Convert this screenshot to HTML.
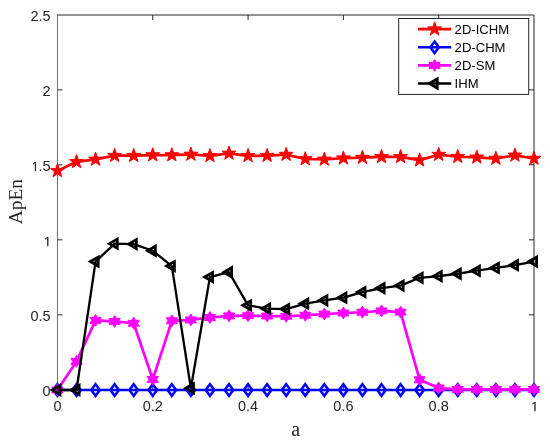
<!DOCTYPE html>
<html><head><meta charset="utf-8"><style>
html,body{margin:0;padding:0;background:#fff;}
svg{display:block;}
.tk{font-family:"Liberation Sans",Arial,sans-serif;font-size:14.5px;fill:#262626;}
.lg{font-family:"Liberation Sans",Arial,sans-serif;font-size:13.1px;fill:#000;}
.one{font-family:"NanumGothic","Liberation Sans",sans-serif;font-size:13.3px;stroke:#262626;stroke-width:0.35px;}
.al{font-family:"Liberation Serif","Times New Roman",serif;font-size:20px;fill:#262626;}
</style></head><body>
<svg width="550" height="443" viewBox="0 0 550 443">
<rect width="550" height="443" fill="#fff"/>
<g stroke="#262626" stroke-width="1" fill="none">
<path d="M56.95,15.0 L534.0,15.0 L534.0,390.5 M534.0,390.0 L57.45,390.0"/>
<path d="M57.45,390.5 L57.45,14.5" stroke="#6c6c6c"/>
<path d="M152.76,15.0 v5 M152.76,390.0 v-5"/>
<path d="M248.07,15.0 v5 M248.07,390.0 v-5"/>
<path d="M343.38,15.0 v5 M343.38,390.0 v-5"/>
<path d="M438.69,15.0 v5 M438.69,390.0 v-5"/>
<path d="M57.45,314.85 h5 M534.0,314.85 h-5"/>
<path d="M57.45,239.85 h5 M534.0,239.85 h-5"/>
<path d="M57.45,164.85 h5 M534.0,164.85 h-5"/>
<path d="M57.45,89.85 h5 M534.0,89.85 h-5"/>
</g>
<text class="tk" x="53.42" y="411.2">0</text>
<text class="tk" x="142.68" y="411.2">0.2</text>
<text class="tk" x="237.99" y="411.2">0.4</text>
<text class="tk" x="333.30" y="411.2">0.6</text>
<text class="tk" x="428.61" y="411.2">0.8</text>
<text class="tk" x="529.97" y="411.2"><tspan class="one" dx="0.60">1</tspan></text>
<text class="tk" x="42.54" y="396.10">0</text>
<text class="tk" x="30.44" y="321.10">0.5</text>
<text class="tk" x="42.54" y="246.10"><tspan class="one" dx="0.60">1</tspan></text>
<text class="tk" x="30.44" y="171.10"><tspan class="one" dx="0.60">1</tspan><tspan dx="-0.60">.</tspan>5</text>
<text class="tk" x="42.54" y="96.10">2</text>
<text class="tk" x="30.44" y="21.10">2.5</text>
<text class="al" x="295.73" y="436.0" text-anchor="middle">a</text>
<text class="al" style="font-size:19.4px" transform="translate(21.6,201.6) rotate(-90)" text-anchor="middle">ApEn</text>
<polyline points="57.45,170.87 76.51,161.84 95.57,159.44 114.64,155.68 133.70,155.68 152.76,155.08 171.82,155.08 190.88,154.47 209.95,155.83 229.01,153.42 248.07,155.83 267.13,155.68 286.19,154.62 305.26,158.99 324.32,159.44 343.38,158.23 362.44,157.63 381.50,156.88 400.57,156.88 419.63,160.19 438.69,154.62 457.75,156.73 476.81,157.33 495.88,158.53 514.94,155.38 534.00,158.53" fill="none" stroke="#f00" stroke-width="2.7" stroke-linejoin="round"/>
<path d="M0.00,-7.30 L1.72,-2.36 L6.94,-2.26 L2.78,0.90 L4.29,5.91 L0.00,2.92 L-4.29,5.91 L-2.78,0.90 L-6.94,-2.26 L-1.72,-2.36Z" transform="translate(57.45,170.87)" fill="#f00" stroke="#f00" stroke-width="1"/><path d="M0.00,-7.30 L1.72,-2.36 L6.94,-2.26 L2.78,0.90 L4.29,5.91 L0.00,2.92 L-4.29,5.91 L-2.78,0.90 L-6.94,-2.26 L-1.72,-2.36Z" transform="translate(76.51,161.84)" fill="#f00" stroke="#f00" stroke-width="1"/><path d="M0.00,-7.30 L1.72,-2.36 L6.94,-2.26 L2.78,0.90 L4.29,5.91 L0.00,2.92 L-4.29,5.91 L-2.78,0.90 L-6.94,-2.26 L-1.72,-2.36Z" transform="translate(95.57,159.44)" fill="#f00" stroke="#f00" stroke-width="1"/><path d="M0.00,-7.30 L1.72,-2.36 L6.94,-2.26 L2.78,0.90 L4.29,5.91 L0.00,2.92 L-4.29,5.91 L-2.78,0.90 L-6.94,-2.26 L-1.72,-2.36Z" transform="translate(114.64,155.68)" fill="#f00" stroke="#f00" stroke-width="1"/><path d="M0.00,-7.30 L1.72,-2.36 L6.94,-2.26 L2.78,0.90 L4.29,5.91 L0.00,2.92 L-4.29,5.91 L-2.78,0.90 L-6.94,-2.26 L-1.72,-2.36Z" transform="translate(133.70,155.68)" fill="#f00" stroke="#f00" stroke-width="1"/><path d="M0.00,-7.30 L1.72,-2.36 L6.94,-2.26 L2.78,0.90 L4.29,5.91 L0.00,2.92 L-4.29,5.91 L-2.78,0.90 L-6.94,-2.26 L-1.72,-2.36Z" transform="translate(152.76,155.08)" fill="#f00" stroke="#f00" stroke-width="1"/><path d="M0.00,-7.30 L1.72,-2.36 L6.94,-2.26 L2.78,0.90 L4.29,5.91 L0.00,2.92 L-4.29,5.91 L-2.78,0.90 L-6.94,-2.26 L-1.72,-2.36Z" transform="translate(171.82,155.08)" fill="#f00" stroke="#f00" stroke-width="1"/><path d="M0.00,-7.30 L1.72,-2.36 L6.94,-2.26 L2.78,0.90 L4.29,5.91 L0.00,2.92 L-4.29,5.91 L-2.78,0.90 L-6.94,-2.26 L-1.72,-2.36Z" transform="translate(190.88,154.47)" fill="#f00" stroke="#f00" stroke-width="1"/><path d="M0.00,-7.30 L1.72,-2.36 L6.94,-2.26 L2.78,0.90 L4.29,5.91 L0.00,2.92 L-4.29,5.91 L-2.78,0.90 L-6.94,-2.26 L-1.72,-2.36Z" transform="translate(209.95,155.83)" fill="#f00" stroke="#f00" stroke-width="1"/><path d="M0.00,-7.30 L1.72,-2.36 L6.94,-2.26 L2.78,0.90 L4.29,5.91 L0.00,2.92 L-4.29,5.91 L-2.78,0.90 L-6.94,-2.26 L-1.72,-2.36Z" transform="translate(229.01,153.42)" fill="#f00" stroke="#f00" stroke-width="1"/><path d="M0.00,-7.30 L1.72,-2.36 L6.94,-2.26 L2.78,0.90 L4.29,5.91 L0.00,2.92 L-4.29,5.91 L-2.78,0.90 L-6.94,-2.26 L-1.72,-2.36Z" transform="translate(248.07,155.83)" fill="#f00" stroke="#f00" stroke-width="1"/><path d="M0.00,-7.30 L1.72,-2.36 L6.94,-2.26 L2.78,0.90 L4.29,5.91 L0.00,2.92 L-4.29,5.91 L-2.78,0.90 L-6.94,-2.26 L-1.72,-2.36Z" transform="translate(267.13,155.68)" fill="#f00" stroke="#f00" stroke-width="1"/><path d="M0.00,-7.30 L1.72,-2.36 L6.94,-2.26 L2.78,0.90 L4.29,5.91 L0.00,2.92 L-4.29,5.91 L-2.78,0.90 L-6.94,-2.26 L-1.72,-2.36Z" transform="translate(286.19,154.62)" fill="#f00" stroke="#f00" stroke-width="1"/><path d="M0.00,-7.30 L1.72,-2.36 L6.94,-2.26 L2.78,0.90 L4.29,5.91 L0.00,2.92 L-4.29,5.91 L-2.78,0.90 L-6.94,-2.26 L-1.72,-2.36Z" transform="translate(305.26,158.99)" fill="#f00" stroke="#f00" stroke-width="1"/><path d="M0.00,-7.30 L1.72,-2.36 L6.94,-2.26 L2.78,0.90 L4.29,5.91 L0.00,2.92 L-4.29,5.91 L-2.78,0.90 L-6.94,-2.26 L-1.72,-2.36Z" transform="translate(324.32,159.44)" fill="#f00" stroke="#f00" stroke-width="1"/><path d="M0.00,-7.30 L1.72,-2.36 L6.94,-2.26 L2.78,0.90 L4.29,5.91 L0.00,2.92 L-4.29,5.91 L-2.78,0.90 L-6.94,-2.26 L-1.72,-2.36Z" transform="translate(343.38,158.23)" fill="#f00" stroke="#f00" stroke-width="1"/><path d="M0.00,-7.30 L1.72,-2.36 L6.94,-2.26 L2.78,0.90 L4.29,5.91 L0.00,2.92 L-4.29,5.91 L-2.78,0.90 L-6.94,-2.26 L-1.72,-2.36Z" transform="translate(362.44,157.63)" fill="#f00" stroke="#f00" stroke-width="1"/><path d="M0.00,-7.30 L1.72,-2.36 L6.94,-2.26 L2.78,0.90 L4.29,5.91 L0.00,2.92 L-4.29,5.91 L-2.78,0.90 L-6.94,-2.26 L-1.72,-2.36Z" transform="translate(381.50,156.88)" fill="#f00" stroke="#f00" stroke-width="1"/><path d="M0.00,-7.30 L1.72,-2.36 L6.94,-2.26 L2.78,0.90 L4.29,5.91 L0.00,2.92 L-4.29,5.91 L-2.78,0.90 L-6.94,-2.26 L-1.72,-2.36Z" transform="translate(400.57,156.88)" fill="#f00" stroke="#f00" stroke-width="1"/><path d="M0.00,-7.30 L1.72,-2.36 L6.94,-2.26 L2.78,0.90 L4.29,5.91 L0.00,2.92 L-4.29,5.91 L-2.78,0.90 L-6.94,-2.26 L-1.72,-2.36Z" transform="translate(419.63,160.19)" fill="#f00" stroke="#f00" stroke-width="1"/><path d="M0.00,-7.30 L1.72,-2.36 L6.94,-2.26 L2.78,0.90 L4.29,5.91 L0.00,2.92 L-4.29,5.91 L-2.78,0.90 L-6.94,-2.26 L-1.72,-2.36Z" transform="translate(438.69,154.62)" fill="#f00" stroke="#f00" stroke-width="1"/><path d="M0.00,-7.30 L1.72,-2.36 L6.94,-2.26 L2.78,0.90 L4.29,5.91 L0.00,2.92 L-4.29,5.91 L-2.78,0.90 L-6.94,-2.26 L-1.72,-2.36Z" transform="translate(457.75,156.73)" fill="#f00" stroke="#f00" stroke-width="1"/><path d="M0.00,-7.30 L1.72,-2.36 L6.94,-2.26 L2.78,0.90 L4.29,5.91 L0.00,2.92 L-4.29,5.91 L-2.78,0.90 L-6.94,-2.26 L-1.72,-2.36Z" transform="translate(476.81,157.33)" fill="#f00" stroke="#f00" stroke-width="1"/><path d="M0.00,-7.30 L1.72,-2.36 L6.94,-2.26 L2.78,0.90 L4.29,5.91 L0.00,2.92 L-4.29,5.91 L-2.78,0.90 L-6.94,-2.26 L-1.72,-2.36Z" transform="translate(495.88,158.53)" fill="#f00" stroke="#f00" stroke-width="1"/><path d="M0.00,-7.30 L1.72,-2.36 L6.94,-2.26 L2.78,0.90 L4.29,5.91 L0.00,2.92 L-4.29,5.91 L-2.78,0.90 L-6.94,-2.26 L-1.72,-2.36Z" transform="translate(514.94,155.38)" fill="#f00" stroke="#f00" stroke-width="1"/><path d="M0.00,-7.30 L1.72,-2.36 L6.94,-2.26 L2.78,0.90 L4.29,5.91 L0.00,2.92 L-4.29,5.91 L-2.78,0.90 L-6.94,-2.26 L-1.72,-2.36Z" transform="translate(534.00,158.53)" fill="#f00" stroke="#f00" stroke-width="1"/>
<polyline points="57.45,390.00 76.51,390.00 95.57,390.00 114.64,390.00 133.70,390.00 152.76,390.00 171.82,390.00 190.88,390.00 209.95,390.00 229.01,390.00 248.07,390.00 267.13,390.00 286.19,390.00 305.26,390.00 324.32,390.00 343.38,390.00 362.44,390.00 381.50,390.00 400.57,390.00 419.63,390.00 438.69,390.00 457.75,390.00 476.81,390.00 495.88,390.00 514.94,390.00 534.00,390.00" fill="none" stroke="#00f" stroke-width="2.5" stroke-linejoin="round"/>
<path d="M0,-5.8 L4.3,0 L0,5.8 L-4.3,0Z" transform="translate(57.45,390.00)" fill="none" stroke="#00f" stroke-width="2.5"/><path d="M0,-5.8 L4.3,0 L0,5.8 L-4.3,0Z" transform="translate(76.51,390.00)" fill="none" stroke="#00f" stroke-width="2.5"/><path d="M0,-5.8 L4.3,0 L0,5.8 L-4.3,0Z" transform="translate(95.57,390.00)" fill="none" stroke="#00f" stroke-width="2.5"/><path d="M0,-5.8 L4.3,0 L0,5.8 L-4.3,0Z" transform="translate(114.64,390.00)" fill="none" stroke="#00f" stroke-width="2.5"/><path d="M0,-5.8 L4.3,0 L0,5.8 L-4.3,0Z" transform="translate(133.70,390.00)" fill="none" stroke="#00f" stroke-width="2.5"/><path d="M0,-5.8 L4.3,0 L0,5.8 L-4.3,0Z" transform="translate(152.76,390.00)" fill="none" stroke="#00f" stroke-width="2.5"/><path d="M0,-5.8 L4.3,0 L0,5.8 L-4.3,0Z" transform="translate(171.82,390.00)" fill="none" stroke="#00f" stroke-width="2.5"/><path d="M0,-5.8 L4.3,0 L0,5.8 L-4.3,0Z" transform="translate(190.88,390.00)" fill="none" stroke="#00f" stroke-width="2.5"/><path d="M0,-5.8 L4.3,0 L0,5.8 L-4.3,0Z" transform="translate(209.95,390.00)" fill="none" stroke="#00f" stroke-width="2.5"/><path d="M0,-5.8 L4.3,0 L0,5.8 L-4.3,0Z" transform="translate(229.01,390.00)" fill="none" stroke="#00f" stroke-width="2.5"/><path d="M0,-5.8 L4.3,0 L0,5.8 L-4.3,0Z" transform="translate(248.07,390.00)" fill="none" stroke="#00f" stroke-width="2.5"/><path d="M0,-5.8 L4.3,0 L0,5.8 L-4.3,0Z" transform="translate(267.13,390.00)" fill="none" stroke="#00f" stroke-width="2.5"/><path d="M0,-5.8 L4.3,0 L0,5.8 L-4.3,0Z" transform="translate(286.19,390.00)" fill="none" stroke="#00f" stroke-width="2.5"/><path d="M0,-5.8 L4.3,0 L0,5.8 L-4.3,0Z" transform="translate(305.26,390.00)" fill="none" stroke="#00f" stroke-width="2.5"/><path d="M0,-5.8 L4.3,0 L0,5.8 L-4.3,0Z" transform="translate(324.32,390.00)" fill="none" stroke="#00f" stroke-width="2.5"/><path d="M0,-5.8 L4.3,0 L0,5.8 L-4.3,0Z" transform="translate(343.38,390.00)" fill="none" stroke="#00f" stroke-width="2.5"/><path d="M0,-5.8 L4.3,0 L0,5.8 L-4.3,0Z" transform="translate(362.44,390.00)" fill="none" stroke="#00f" stroke-width="2.5"/><path d="M0,-5.8 L4.3,0 L0,5.8 L-4.3,0Z" transform="translate(381.50,390.00)" fill="none" stroke="#00f" stroke-width="2.5"/><path d="M0,-5.8 L4.3,0 L0,5.8 L-4.3,0Z" transform="translate(400.57,390.00)" fill="none" stroke="#00f" stroke-width="2.5"/><path d="M0,-5.8 L4.3,0 L0,5.8 L-4.3,0Z" transform="translate(419.63,390.00)" fill="none" stroke="#00f" stroke-width="2.5"/><path d="M0,-5.8 L4.3,0 L0,5.8 L-4.3,0Z" transform="translate(438.69,390.00)" fill="none" stroke="#00f" stroke-width="2.5"/><path d="M0,-5.8 L4.3,0 L0,5.8 L-4.3,0Z" transform="translate(457.75,390.00)" fill="none" stroke="#00f" stroke-width="2.5"/><path d="M0,-5.8 L4.3,0 L0,5.8 L-4.3,0Z" transform="translate(476.81,390.00)" fill="none" stroke="#00f" stroke-width="2.5"/><path d="M0,-5.8 L4.3,0 L0,5.8 L-4.3,0Z" transform="translate(495.88,390.00)" fill="none" stroke="#00f" stroke-width="2.5"/><path d="M0,-5.8 L4.3,0 L0,5.8 L-4.3,0Z" transform="translate(514.94,390.00)" fill="none" stroke="#00f" stroke-width="2.5"/><path d="M0,-5.8 L4.3,0 L0,5.8 L-4.3,0Z" transform="translate(534.00,390.00)" fill="none" stroke="#00f" stroke-width="2.5"/>
<polyline points="57.45,390.00 76.51,361.42 95.57,320.36 114.64,321.42 133.70,323.22 152.76,379.47 171.82,320.82 190.88,319.91 209.95,317.51 229.01,315.85 248.07,315.70 267.13,316.00 286.19,316.30 305.26,315.25 324.32,314.05 343.38,313.00 362.44,312.24 381.50,310.89 400.57,312.09 419.63,379.77 438.69,388.04 457.75,389.40 476.81,389.40 495.88,389.40 514.94,389.40 534.00,389.40" fill="none" stroke="#f0f" stroke-width="2.7" stroke-linejoin="round"/>
<path d="M0.00,-5.90 L1.87,-2.95 L5.62,-2.95 L3.75,0.00 L5.62,2.95 L1.87,2.95 L0.00,5.90 L-1.87,2.95 L-5.62,2.95 L-3.75,0.00 L-5.62,-2.95 L-1.87,-2.95Z" transform="translate(57.45,390.00)" fill="#f0f" stroke="#f0f" stroke-width="1"/><path d="M0.00,-5.90 L1.87,-2.95 L5.62,-2.95 L3.75,0.00 L5.62,2.95 L1.87,2.95 L0.00,5.90 L-1.87,2.95 L-5.62,2.95 L-3.75,0.00 L-5.62,-2.95 L-1.87,-2.95Z" transform="translate(76.51,361.42)" fill="#f0f" stroke="#f0f" stroke-width="1"/><path d="M0.00,-5.90 L1.87,-2.95 L5.62,-2.95 L3.75,0.00 L5.62,2.95 L1.87,2.95 L0.00,5.90 L-1.87,2.95 L-5.62,2.95 L-3.75,0.00 L-5.62,-2.95 L-1.87,-2.95Z" transform="translate(95.57,320.36)" fill="#f0f" stroke="#f0f" stroke-width="1"/><path d="M0.00,-5.90 L1.87,-2.95 L5.62,-2.95 L3.75,0.00 L5.62,2.95 L1.87,2.95 L0.00,5.90 L-1.87,2.95 L-5.62,2.95 L-3.75,0.00 L-5.62,-2.95 L-1.87,-2.95Z" transform="translate(114.64,321.42)" fill="#f0f" stroke="#f0f" stroke-width="1"/><path d="M0.00,-5.90 L1.87,-2.95 L5.62,-2.95 L3.75,0.00 L5.62,2.95 L1.87,2.95 L0.00,5.90 L-1.87,2.95 L-5.62,2.95 L-3.75,0.00 L-5.62,-2.95 L-1.87,-2.95Z" transform="translate(133.70,323.22)" fill="#f0f" stroke="#f0f" stroke-width="1"/><path d="M0.00,-5.90 L1.87,-2.95 L5.62,-2.95 L3.75,0.00 L5.62,2.95 L1.87,2.95 L0.00,5.90 L-1.87,2.95 L-5.62,2.95 L-3.75,0.00 L-5.62,-2.95 L-1.87,-2.95Z" transform="translate(152.76,379.47)" fill="#f0f" stroke="#f0f" stroke-width="1"/><path d="M0.00,-5.90 L1.87,-2.95 L5.62,-2.95 L3.75,0.00 L5.62,2.95 L1.87,2.95 L0.00,5.90 L-1.87,2.95 L-5.62,2.95 L-3.75,0.00 L-5.62,-2.95 L-1.87,-2.95Z" transform="translate(171.82,320.82)" fill="#f0f" stroke="#f0f" stroke-width="1"/><path d="M0.00,-5.90 L1.87,-2.95 L5.62,-2.95 L3.75,0.00 L5.62,2.95 L1.87,2.95 L0.00,5.90 L-1.87,2.95 L-5.62,2.95 L-3.75,0.00 L-5.62,-2.95 L-1.87,-2.95Z" transform="translate(190.88,319.91)" fill="#f0f" stroke="#f0f" stroke-width="1"/><path d="M0.00,-5.90 L1.87,-2.95 L5.62,-2.95 L3.75,0.00 L5.62,2.95 L1.87,2.95 L0.00,5.90 L-1.87,2.95 L-5.62,2.95 L-3.75,0.00 L-5.62,-2.95 L-1.87,-2.95Z" transform="translate(209.95,317.51)" fill="#f0f" stroke="#f0f" stroke-width="1"/><path d="M0.00,-5.90 L1.87,-2.95 L5.62,-2.95 L3.75,0.00 L5.62,2.95 L1.87,2.95 L0.00,5.90 L-1.87,2.95 L-5.62,2.95 L-3.75,0.00 L-5.62,-2.95 L-1.87,-2.95Z" transform="translate(229.01,315.85)" fill="#f0f" stroke="#f0f" stroke-width="1"/><path d="M0.00,-5.90 L1.87,-2.95 L5.62,-2.95 L3.75,0.00 L5.62,2.95 L1.87,2.95 L0.00,5.90 L-1.87,2.95 L-5.62,2.95 L-3.75,0.00 L-5.62,-2.95 L-1.87,-2.95Z" transform="translate(248.07,315.70)" fill="#f0f" stroke="#f0f" stroke-width="1"/><path d="M0.00,-5.90 L1.87,-2.95 L5.62,-2.95 L3.75,0.00 L5.62,2.95 L1.87,2.95 L0.00,5.90 L-1.87,2.95 L-5.62,2.95 L-3.75,0.00 L-5.62,-2.95 L-1.87,-2.95Z" transform="translate(267.13,316.00)" fill="#f0f" stroke="#f0f" stroke-width="1"/><path d="M0.00,-5.90 L1.87,-2.95 L5.62,-2.95 L3.75,0.00 L5.62,2.95 L1.87,2.95 L0.00,5.90 L-1.87,2.95 L-5.62,2.95 L-3.75,0.00 L-5.62,-2.95 L-1.87,-2.95Z" transform="translate(286.19,316.30)" fill="#f0f" stroke="#f0f" stroke-width="1"/><path d="M0.00,-5.90 L1.87,-2.95 L5.62,-2.95 L3.75,0.00 L5.62,2.95 L1.87,2.95 L0.00,5.90 L-1.87,2.95 L-5.62,2.95 L-3.75,0.00 L-5.62,-2.95 L-1.87,-2.95Z" transform="translate(305.26,315.25)" fill="#f0f" stroke="#f0f" stroke-width="1"/><path d="M0.00,-5.90 L1.87,-2.95 L5.62,-2.95 L3.75,0.00 L5.62,2.95 L1.87,2.95 L0.00,5.90 L-1.87,2.95 L-5.62,2.95 L-3.75,0.00 L-5.62,-2.95 L-1.87,-2.95Z" transform="translate(324.32,314.05)" fill="#f0f" stroke="#f0f" stroke-width="1"/><path d="M0.00,-5.90 L1.87,-2.95 L5.62,-2.95 L3.75,0.00 L5.62,2.95 L1.87,2.95 L0.00,5.90 L-1.87,2.95 L-5.62,2.95 L-3.75,0.00 L-5.62,-2.95 L-1.87,-2.95Z" transform="translate(343.38,313.00)" fill="#f0f" stroke="#f0f" stroke-width="1"/><path d="M0.00,-5.90 L1.87,-2.95 L5.62,-2.95 L3.75,0.00 L5.62,2.95 L1.87,2.95 L0.00,5.90 L-1.87,2.95 L-5.62,2.95 L-3.75,0.00 L-5.62,-2.95 L-1.87,-2.95Z" transform="translate(362.44,312.24)" fill="#f0f" stroke="#f0f" stroke-width="1"/><path d="M0.00,-5.90 L1.87,-2.95 L5.62,-2.95 L3.75,0.00 L5.62,2.95 L1.87,2.95 L0.00,5.90 L-1.87,2.95 L-5.62,2.95 L-3.75,0.00 L-5.62,-2.95 L-1.87,-2.95Z" transform="translate(381.50,310.89)" fill="#f0f" stroke="#f0f" stroke-width="1"/><path d="M0.00,-5.90 L1.87,-2.95 L5.62,-2.95 L3.75,0.00 L5.62,2.95 L1.87,2.95 L0.00,5.90 L-1.87,2.95 L-5.62,2.95 L-3.75,0.00 L-5.62,-2.95 L-1.87,-2.95Z" transform="translate(400.57,312.09)" fill="#f0f" stroke="#f0f" stroke-width="1"/><path d="M0.00,-5.90 L1.87,-2.95 L5.62,-2.95 L3.75,0.00 L5.62,2.95 L1.87,2.95 L0.00,5.90 L-1.87,2.95 L-5.62,2.95 L-3.75,0.00 L-5.62,-2.95 L-1.87,-2.95Z" transform="translate(419.63,379.77)" fill="#f0f" stroke="#f0f" stroke-width="1"/><path d="M0.00,-5.90 L1.87,-2.95 L5.62,-2.95 L3.75,0.00 L5.62,2.95 L1.87,2.95 L0.00,5.90 L-1.87,2.95 L-5.62,2.95 L-3.75,0.00 L-5.62,-2.95 L-1.87,-2.95Z" transform="translate(438.69,388.04)" fill="#f0f" stroke="#f0f" stroke-width="1"/><path d="M0.00,-5.90 L1.87,-2.95 L5.62,-2.95 L3.75,0.00 L5.62,2.95 L1.87,2.95 L0.00,5.90 L-1.87,2.95 L-5.62,2.95 L-3.75,0.00 L-5.62,-2.95 L-1.87,-2.95Z" transform="translate(457.75,389.40)" fill="#f0f" stroke="#f0f" stroke-width="1"/><path d="M0.00,-5.90 L1.87,-2.95 L5.62,-2.95 L3.75,0.00 L5.62,2.95 L1.87,2.95 L0.00,5.90 L-1.87,2.95 L-5.62,2.95 L-3.75,0.00 L-5.62,-2.95 L-1.87,-2.95Z" transform="translate(476.81,389.40)" fill="#f0f" stroke="#f0f" stroke-width="1"/><path d="M0.00,-5.90 L1.87,-2.95 L5.62,-2.95 L3.75,0.00 L5.62,2.95 L1.87,2.95 L0.00,5.90 L-1.87,2.95 L-5.62,2.95 L-3.75,0.00 L-5.62,-2.95 L-1.87,-2.95Z" transform="translate(495.88,389.40)" fill="#f0f" stroke="#f0f" stroke-width="1"/><path d="M0.00,-5.90 L1.87,-2.95 L5.62,-2.95 L3.75,0.00 L5.62,2.95 L1.87,2.95 L0.00,5.90 L-1.87,2.95 L-5.62,2.95 L-3.75,0.00 L-5.62,-2.95 L-1.87,-2.95Z" transform="translate(514.94,389.40)" fill="#f0f" stroke="#f0f" stroke-width="1"/><path d="M0.00,-5.90 L1.87,-2.95 L5.62,-2.95 L3.75,0.00 L5.62,2.95 L1.87,2.95 L0.00,5.90 L-1.87,2.95 L-5.62,2.95 L-3.75,0.00 L-5.62,-2.95 L-1.87,-2.95Z" transform="translate(534.00,389.40)" fill="#f0f" stroke="#f0f" stroke-width="1"/>
<polyline points="57.45,390.00 76.51,390.00 95.57,261.56 114.64,243.66 133.70,244.11 152.76,250.73 171.82,266.07 190.88,388.30 209.95,277.05 229.01,272.24 248.07,305.32 267.13,308.63 286.19,309.08 305.26,303.67 324.32,300.36 343.38,297.65 362.44,292.09 381.50,288.18 400.57,285.62 419.63,277.80 438.69,276.15 457.75,273.74 476.81,270.73 495.88,267.88 514.94,265.17 534.00,261.56" fill="none" stroke="#000" stroke-width="2.3" stroke-linejoin="round"/>
<path d="M-5.20,0 L2.60,-4.50 L2.60,4.50Z" transform="translate(57.45,390.00)" fill="none" stroke="#000" stroke-width="2.8"/><path d="M-5.20,0 L2.60,-4.50 L2.60,4.50Z" transform="translate(76.51,390.00)" fill="none" stroke="#000" stroke-width="2.8"/><path d="M-5.20,0 L2.60,-4.50 L2.60,4.50Z" transform="translate(95.57,261.56)" fill="none" stroke="#000" stroke-width="2.8"/><path d="M-5.20,0 L2.60,-4.50 L2.60,4.50Z" transform="translate(114.64,243.66)" fill="none" stroke="#000" stroke-width="2.8"/><path d="M-5.20,0 L2.60,-4.50 L2.60,4.50Z" transform="translate(133.70,244.11)" fill="none" stroke="#000" stroke-width="2.8"/><path d="M-5.20,0 L2.60,-4.50 L2.60,4.50Z" transform="translate(152.76,250.73)" fill="none" stroke="#000" stroke-width="2.8"/><path d="M-5.20,0 L2.60,-4.50 L2.60,4.50Z" transform="translate(171.82,266.07)" fill="none" stroke="#000" stroke-width="2.8"/><path d="M-5.20,0 L2.60,-4.50 L2.60,4.50Z" transform="translate(190.88,388.30)" fill="none" stroke="#000" stroke-width="2.8"/><path d="M-5.20,0 L2.60,-4.50 L2.60,4.50Z" transform="translate(209.95,277.05)" fill="none" stroke="#000" stroke-width="2.8"/><path d="M-5.20,0 L2.60,-4.50 L2.60,4.50Z" transform="translate(229.01,272.24)" fill="none" stroke="#000" stroke-width="2.8"/><path d="M-5.20,0 L2.60,-4.50 L2.60,4.50Z" transform="translate(248.07,305.32)" fill="none" stroke="#000" stroke-width="2.8"/><path d="M-5.20,0 L2.60,-4.50 L2.60,4.50Z" transform="translate(267.13,308.63)" fill="none" stroke="#000" stroke-width="2.8"/><path d="M-5.20,0 L2.60,-4.50 L2.60,4.50Z" transform="translate(286.19,309.08)" fill="none" stroke="#000" stroke-width="2.8"/><path d="M-5.20,0 L2.60,-4.50 L2.60,4.50Z" transform="translate(305.26,303.67)" fill="none" stroke="#000" stroke-width="2.8"/><path d="M-5.20,0 L2.60,-4.50 L2.60,4.50Z" transform="translate(324.32,300.36)" fill="none" stroke="#000" stroke-width="2.8"/><path d="M-5.20,0 L2.60,-4.50 L2.60,4.50Z" transform="translate(343.38,297.65)" fill="none" stroke="#000" stroke-width="2.8"/><path d="M-5.20,0 L2.60,-4.50 L2.60,4.50Z" transform="translate(362.44,292.09)" fill="none" stroke="#000" stroke-width="2.8"/><path d="M-5.20,0 L2.60,-4.50 L2.60,4.50Z" transform="translate(381.50,288.18)" fill="none" stroke="#000" stroke-width="2.8"/><path d="M-5.20,0 L2.60,-4.50 L2.60,4.50Z" transform="translate(400.57,285.62)" fill="none" stroke="#000" stroke-width="2.8"/><path d="M-5.20,0 L2.60,-4.50 L2.60,4.50Z" transform="translate(419.63,277.80)" fill="none" stroke="#000" stroke-width="2.8"/><path d="M-5.20,0 L2.60,-4.50 L2.60,4.50Z" transform="translate(438.69,276.15)" fill="none" stroke="#000" stroke-width="2.8"/><path d="M-5.20,0 L2.60,-4.50 L2.60,4.50Z" transform="translate(457.75,273.74)" fill="none" stroke="#000" stroke-width="2.8"/><path d="M-5.20,0 L2.60,-4.50 L2.60,4.50Z" transform="translate(476.81,270.73)" fill="none" stroke="#000" stroke-width="2.8"/><path d="M-5.20,0 L2.60,-4.50 L2.60,4.50Z" transform="translate(495.88,267.88)" fill="none" stroke="#000" stroke-width="2.8"/><path d="M-5.20,0 L2.60,-4.50 L2.60,4.50Z" transform="translate(514.94,265.17)" fill="none" stroke="#000" stroke-width="2.8"/><path d="M-5.20,0 L2.60,-4.50 L2.60,4.50Z" transform="translate(534.00,261.56)" fill="none" stroke="#000" stroke-width="2.8"/>
<rect x="398.7" y="18.5" width="130.0" height="75.9" fill="#fff" stroke="#262626" stroke-width="1"/>
<path d="M418,29.2 H451.2" stroke="#f00" stroke-width="2.7"/>
<path d="M0.00,-7.30 L1.72,-2.36 L6.94,-2.26 L2.78,0.90 L4.29,5.91 L0.00,2.92 L-4.29,5.91 L-2.78,0.90 L-6.94,-2.26 L-1.72,-2.36Z" transform="translate(434.60,29.20)" fill="#f00" stroke="#f00" stroke-width="1"/>
<text class="lg" x="454.6" y="34.0">2D-ICHM</text>
<path d="M418,47.3 H451.2" stroke="#00f" stroke-width="2.5"/>
<path d="M0,-5.8 L4.3,0 L0,5.8 L-4.3,0Z" transform="translate(434.60,47.30)" fill="none" stroke="#00f" stroke-width="2.5"/>
<text class="lg" x="454.6" y="52.1">2D-CHM</text>
<path d="M418,65.4 H451.2" stroke="#f0f" stroke-width="2.7"/>
<path d="M0.00,-5.90 L1.87,-2.95 L5.62,-2.95 L3.75,0.00 L5.62,2.95 L1.87,2.95 L0.00,5.90 L-1.87,2.95 L-5.62,2.95 L-3.75,0.00 L-5.62,-2.95 L-1.87,-2.95Z" transform="translate(434.60,65.40)" fill="#f0f" stroke="#f0f" stroke-width="1"/>
<text class="lg" x="454.6" y="70.2">2D-SM</text>
<path d="M418,83.5 H451.2" stroke="#000" stroke-width="2.3"/>
<path d="M-5.20,0 L2.60,-4.50 L2.60,4.50Z" transform="translate(434.60,83.50)" fill="none" stroke="#000" stroke-width="2.8"/>
<text class="lg" x="454.6" y="88.3">IHM</text>
</svg></body></html>
